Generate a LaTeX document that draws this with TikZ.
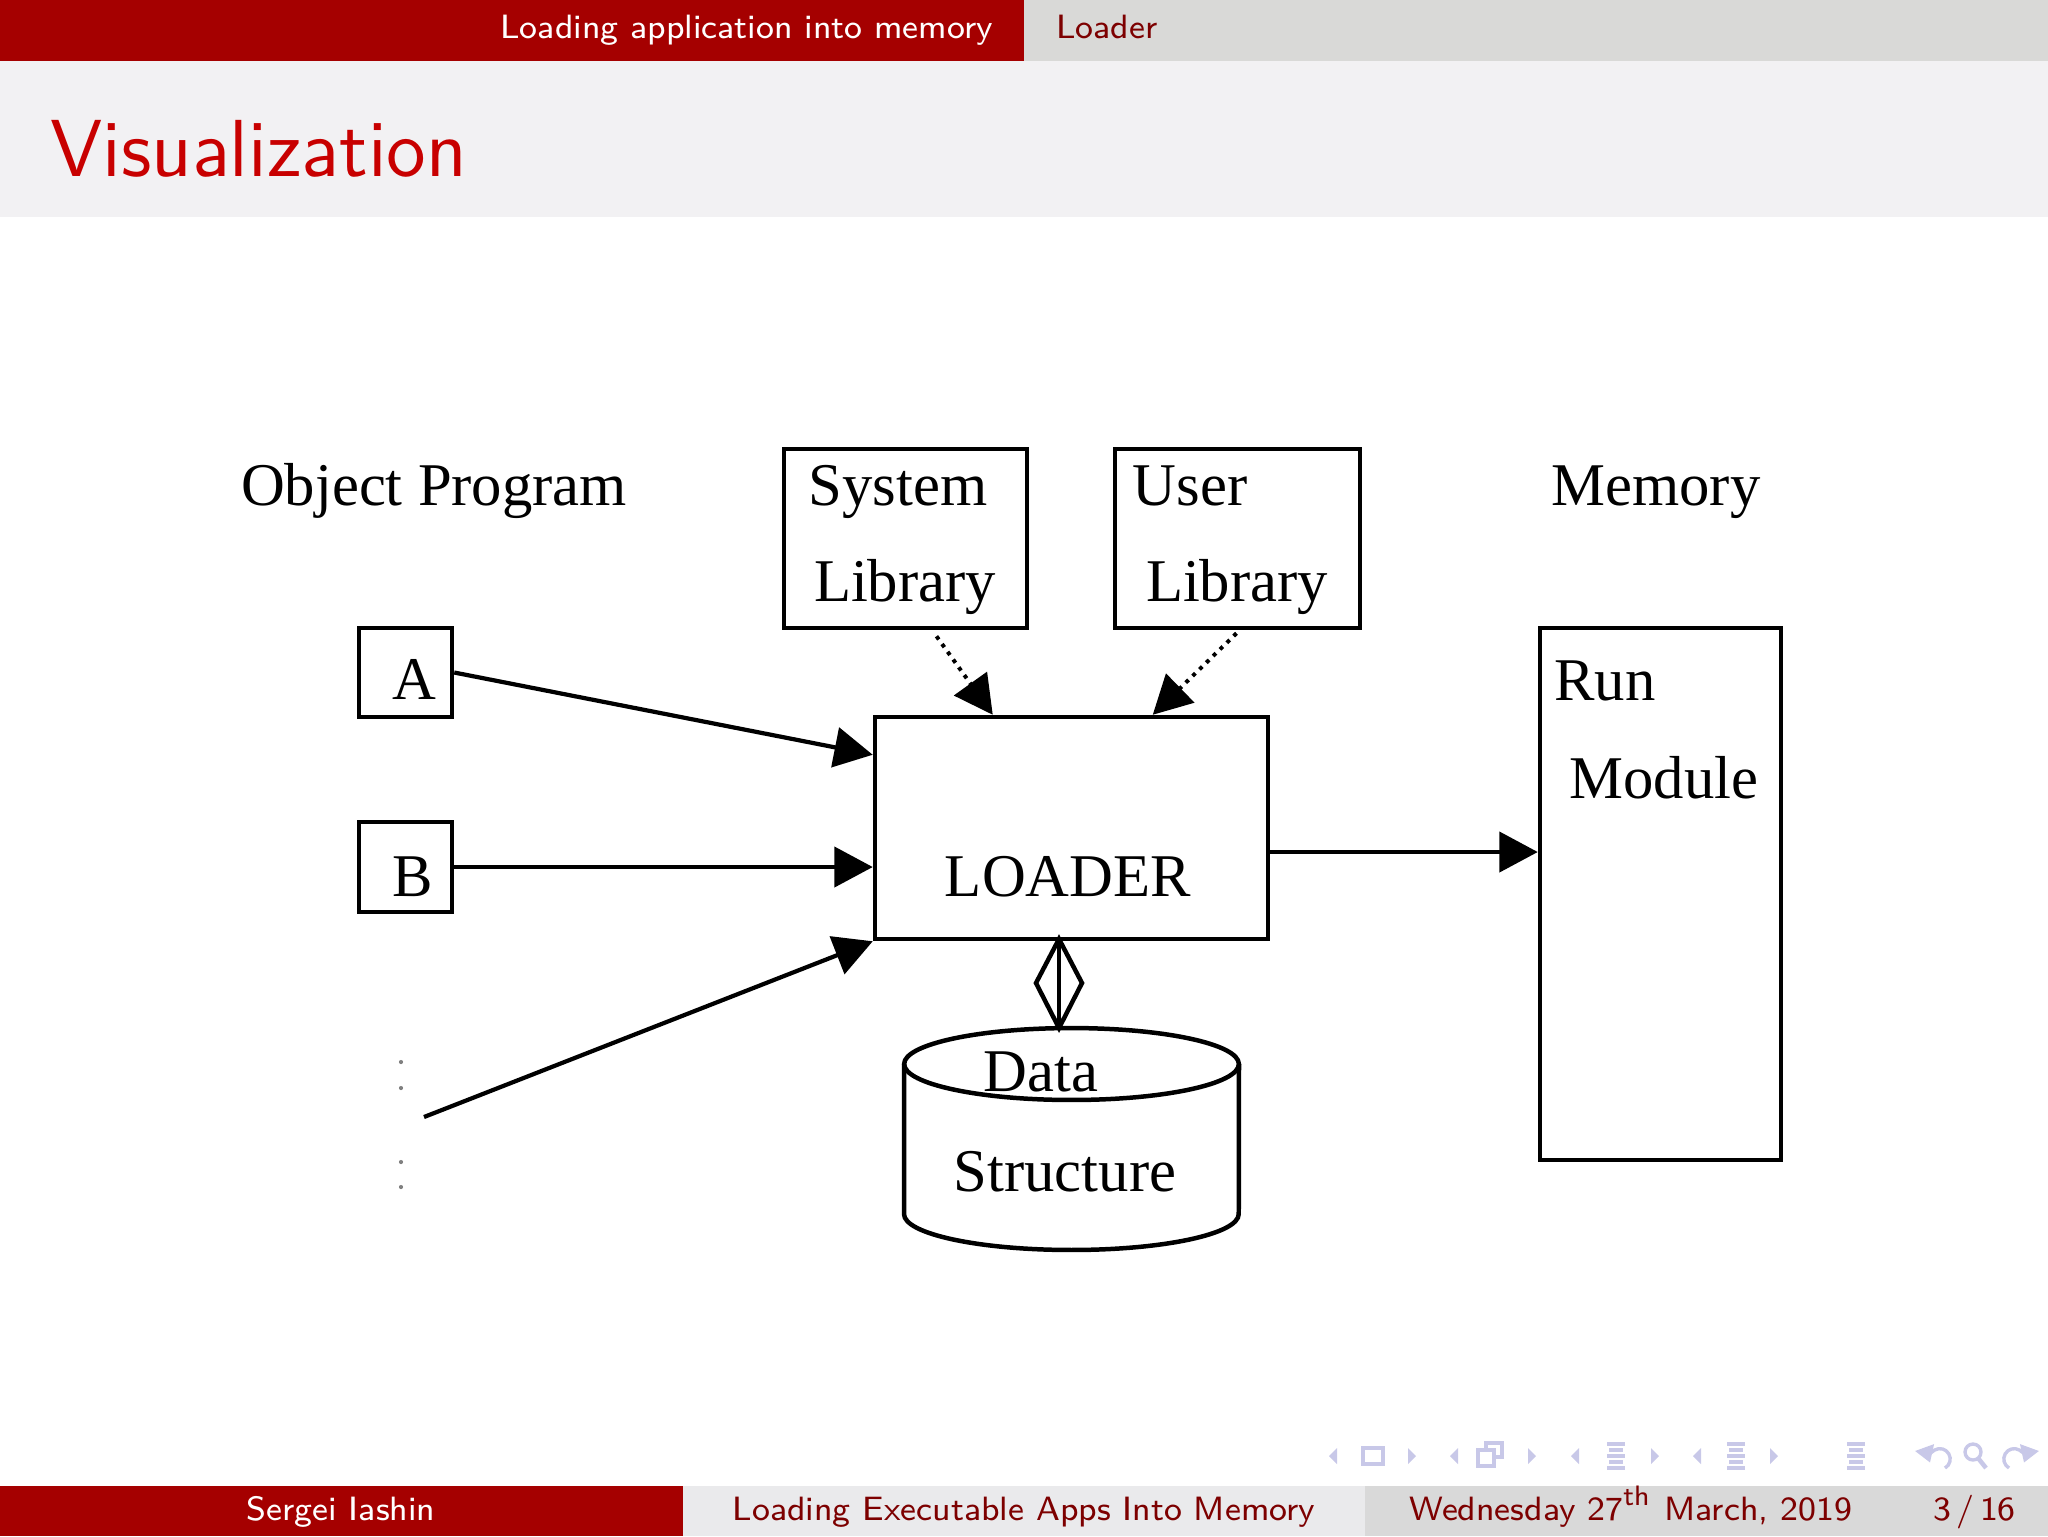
\documentclass[tikz,border=0pt]{standalone}
\usepackage{fontspec}
\usetikzlibrary{arrows.meta,calc}
\newfontfamily\tnr{Liberation Serif}
\definecolor{headRed}{RGB}{165,0,0}
\definecolor{headGray}{RGB}{217,217,215}
\definecolor{titleBand}{RGB}{242,241,243}
\definecolor{footMid}{RGB}{234,234,236}
\definecolor{footRight}{RGB}{217,217,217}
\definecolor{darkRedText}{RGB}{125,0,0}
\definecolor{titleRed}{RGB}{200,0,0}
\definecolor{navc}{RGB}{200,200,232}
\tikzset{
  bartext/.style={inner sep=0pt, font=\sffamily\fontsize{6.0}{7.2}\selectfont},
  dtext/.style={inner sep=0pt, anchor=base, font=\tnr\fontsize{10.8}{12}\selectfont},
  boxnode/.style={draw, line width=0.8pt, inner sep=0pt},
  arr/.style={line width=0.75pt, -{Triangle[length=2.4mm,width=2.5mm]}},
  dotarr/.style={line width=0.7pt, densely dotted, -{Triangle[length=2.4mm,width=2.5mm]}},
  navtri/.style={fill=navc, draw=none},
  navline/.style={draw=navc, line width=0.5pt}
}
\begin{document}
\begin{tikzpicture}[x=0.00625cm, y=-0.00625cm]
\useasboundingbox (0,0) rectangle (2048,1536);
% backgrounds
\fill[white] (0,0) rectangle (2048,1536);
\fill[headRed] (0,0) rectangle (1024,61);
\fill[headGray] (1024,0) rectangle (2048,61);
\fill[titleBand] (0,61) rectangle (2048,217);
\fill[headRed] (0,1486) rectangle (682.7,1536);
\fill[footMid] (682.7,1486) rectangle (1365.3,1536);
\fill[footRight] (1365.3,1486) rectangle (2048,1536);
% head texts
\node[bartext, anchor=base east, text=white] (hsec) at (994,38) {Loading application into memory};
\node[bartext, anchor=base west, text=darkRedText] (hsub) at (1055,38) {Loader};
% title
\node[inner sep=0pt, anchor=base west, text=titleRed, font=\sffamily\fontsize{14.4}{16}\selectfont] (title) at (49,176) {Visualization};
% foot texts
\node[bartext, anchor=base, text=white] (fauth) at (341,1520) {Sergei Iashin};
\node[bartext, anchor=base, text=darkRedText] (ftitle) at (1024,1520) {Loading Executable Apps Into Memory};
\node[bartext, anchor=base west, text=darkRedText] (fdate) at (1408,1520) {Wednesday 27\textsuperscript{th} March, 2019};
\node[bartext, anchor=base east, text=darkRedText] (fpage) at (2017,1520) {3\,/\,16};
% navigation symbols
\foreach \xl/\xr in {1333/1412, 1454/1532, 1575/1655, 1697/1774}{
  \fill[navtri] (\xl+4,1448) -- (\xl-4,1456) -- (\xl+4,1464) -- cycle;
  \fill[navtri] (\xr-4,1448) -- (\xr+4,1456) -- (\xr-4,1464) -- cycle;
}
\draw[navline, line width=0.6pt] (1363,1448) rectangle (1383,1464);
\draw[navline, line width=0.6pt] (1486,1443) rectangle (1502,1457);
\draw[navline, line width=0.6pt, fill=white] (1478,1450) rectangle (1494,1466);
\foreach \cx in {1616,1736,1856}{
  \foreach \yy/\ww in {1444/9,1450/7,1456/9,1462/7,1468/9}{
    \draw[navline, line width=0.55pt] (\cx-\ww,\yy) -- (\cx+\ww,\yy);
  }
}
\draw[navline, line width=0.6pt, -{Triangle[length=1mm,width=1.2mm]}] (1945,1468) arc[start angle=-60, end angle=200, radius=0.065cm];
\draw[navline, line width=0.6pt] (1973,1452) circle[radius=0.05cm];
\draw[navline, line width=0.8pt] (1978,1458) -- (1986,1468);
\draw[navline, line width=0.6pt, -{Triangle[length=1mm,width=1.2mm]}] (2009,1468) arc[start angle=240, end angle=-20, radius=0.065cm];
% ================= diagram =================
\node[dtext] (objprog) at (434,505) {Object Program};
\node[dtext] (memlbl) at (1656,505) {Memory};
\node[boxnode, minimum width=243*0.00625cm, minimum height=179*0.00625cm] (sys) at (905.5,538.5) {};
\node[dtext] (sys1) at (898,505) {System};
\node[dtext] (sys2) at (905,601) {Library};
\node[boxnode, minimum width=245*0.00625cm, minimum height=179*0.00625cm] (usr) at (1237.5,538.5) {};
\node[dtext] (usr1) at (1190,505) {User};
\node[dtext] (usr2) at (1237,601) {Library};
\node[boxnode, minimum width=93*0.00625cm, minimum height=89*0.00625cm] (A) at (405.5,672.5) {};
\node[dtext] (Alab) at (414,699) {A};
\node[boxnode, minimum width=93*0.00625cm, minimum height=90*0.00625cm] (B) at (405.5,867) {};
\node[dtext] (Blab) at (413,896) {B};
\node[boxnode, minimum width=393*0.00625cm, minimum height=222*0.00625cm] (loader) at (1071.5,828) {};
\node[dtext] (loaderlab) at (1068,896) {LOADER};
\node[boxnode, minimum width=241*0.00625cm, minimum height=532*0.00625cm] (run) at (1660.5,894) {};
\node[dtext] (run1) at (1605,700) {Run};
\node[dtext] (run2) at (1664,798) {Module};
% cylinder
\draw[line width=0.8pt] (1071.5,1064) ellipse[x radius=1.047cm, y radius=0.225cm];
\draw[line width=0.8pt] (904,1064) -- (904,1214) arc[start angle=180, end angle=360, x radius=1.047cm, y radius=0.225cm] -- (1239,1064);
\node[dtext] (data1) at (1041,1091) {Data};
\node[dtext] (data2) at (1065,1191) {Structure};
% dots
\foreach \yy in {1062,1088,1162,1187}{
  \fill[gray] (401,\yy) circle[radius=0.013cm];
}
\coordinate (more) at (424,1117);
% connectors
\draw[arr] (A.east) -- ($(loader.north west)+(0,40)$);
\draw[arr] (B.east) -- (B.east -| loader.west);
\draw[arr] (more) -- (loader.south west);
\draw[arr] ($(loader.east)+(0,24)$) -- ($(run.west |- loader.east)+(0,24)$);
\draw[dotarr] ($(sys.south)+(31,6)$) -- ($(loader.north west)+(120,0)$);
\draw[dotarr] ($(usr.south)+(-1,3)$) -- ($(loader.north west)+(280,0)$);
% diamond link
\coordinate (dtop) at (1059,939);
\coordinate (dbot) at (1059,1028);
\draw[line width=0.8pt] (dtop) -- (1036,983) -- (dbot) -- (1082,983) -- cycle;
\draw[line width=0.8pt] (dtop) -- (dbot);
\end{tikzpicture}
\end{document}
